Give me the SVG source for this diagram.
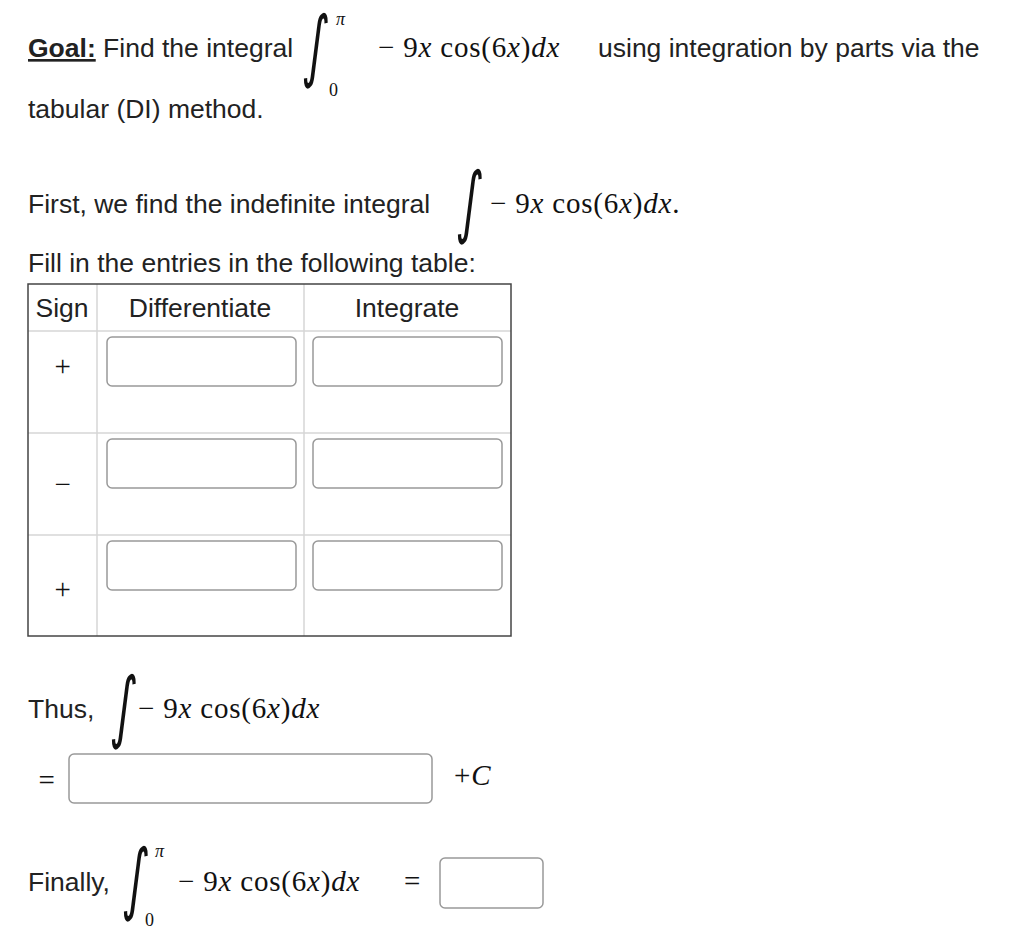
<svg xmlns="http://www.w3.org/2000/svg" width="1024" height="944" viewBox="0 0 1024 944">
<style>
.t{font-family:"Liberation Sans",Arial,sans-serif;font-size:26.5px;fill:#222}
.m{font-family:"Liberation Serif","Times New Roman",serif;font-size:29px;fill:#111;letter-spacing:0.8px}
.i{font-style:italic}
.int{font-family:"DejaVu Sans",sans-serif;font-size:56px;fill:#111}
.s{font-family:"Liberation Serif",serif;font-size:18px;fill:#111}
.box{fill:#fff;stroke:#999;stroke-width:1.5}
.in{stroke:#d6d6d6;stroke-width:1.5}
</style>
<rect width="1024" height="944" fill="#fff"/>
<g id="goal">
<text class="t" x="28" y="57"><tspan font-weight="bold" text-decoration="underline">Goal:</tspan> Find the integral</text>
<text class="int" transform="translate(302,72) scale(0.8,1.4) skewX(-10)">∫</text>
<text class="s i" x="336" y="25">π</text>
<text class="s" x="329" y="96">0</text>
<text class="m" x="378" y="57">−  9<tspan class="i">x</tspan> cos(6<tspan class="i">x</tspan>)<tspan class="i">dx</tspan></text>
<text class="t" x="598" y="57">using integration by parts via the</text>
<text class="t" x="28" y="118">tabular (DI) method.</text>
</g>
<g id="first">
<text class="t" x="28" y="213">First, we find the indefinite integral</text>
<text class="int" transform="translate(456,228) scale(0.8,1.4) skewX(-10)">∫</text>
<text class="m" x="490" y="213">−  9<tspan class="i">x</tspan> cos(6<tspan class="i">x</tspan>)<tspan class="i">dx</tspan>.</text>
<text class="t" x="28" y="272">Fill in the entries in the following table:</text>
</g>
<g id="table">
<line class="in" x1="28" y1="331" x2="511" y2="331"/>
<line class="in" x1="28" y1="433" x2="511" y2="433"/>
<line class="in" x1="28" y1="535" x2="511" y2="535"/>
<line class="in" x1="304" y1="284" x2="304" y2="636"/>
<line class="in" x1="97" y1="284" x2="97" y2="636" stroke="#bbb"/>
<rect x="28" y="284" width="483" height="352" fill="none" stroke="#444" stroke-width="1.5"/>
<text class="t" x="62" y="317" text-anchor="middle">Sign</text>
<text class="t" x="200" y="317" text-anchor="middle">Differentiate</text>
<text class="t" x="407" y="317" text-anchor="middle">Integrate</text>
<text class="m" x="63" y="376" text-anchor="middle" font-size="32">+</text>
<text class="m" x="63" y="494" text-anchor="middle" font-size="32">−</text>
<text class="m" x="63" y="599" text-anchor="middle" font-size="32">+</text>
<rect class="box" x="107" y="337" width="189" height="49" rx="5"/>
<rect class="box" x="313" y="337" width="189" height="49" rx="5"/>
<rect class="box" x="107" y="439" width="189" height="49" rx="5"/>
<rect class="box" x="313" y="439" width="189" height="49" rx="5"/>
<rect class="box" x="107" y="541" width="189" height="49" rx="5"/>
<rect class="box" x="313" y="541" width="189" height="49" rx="5"/>
</g>
<g id="thus">
<text class="t" x="28" y="718">Thus,</text>
<text class="int" transform="translate(110,733) scale(0.8,1.4) skewX(-10)">∫</text>
<text class="m" x="138" y="718">−  9<tspan class="i">x</tspan> cos(6<tspan class="i">x</tspan>)<tspan class="i">dx</tspan></text>
<text class="m" x="47" y="790" text-anchor="middle" font-size="32">=</text>
<rect class="box" x="69" y="754" width="363" height="49" rx="5"/>
<text class="m" x="454" y="785" font-size="31">+<tspan class="i">C</tspan></text>
</g>
<g id="finally">
<text class="t" x="28" y="891">Finally,</text>
<text class="int" transform="translate(122,905) scale(0.8,1.4) skewX(-10)">∫</text>
<text class="s i" x="155" y="857">π</text>
<text class="s" x="145" y="926">0</text>
<text class="m" x="178" y="891">−  9<tspan class="i">x</tspan> cos(6<tspan class="i">x</tspan>)<tspan class="i">dx</tspan></text>
<text class="m" x="404" y="891" font-size="32">=</text>
<rect class="box" x="440" y="858" width="103" height="50" rx="5"/>
</g>
</svg>
